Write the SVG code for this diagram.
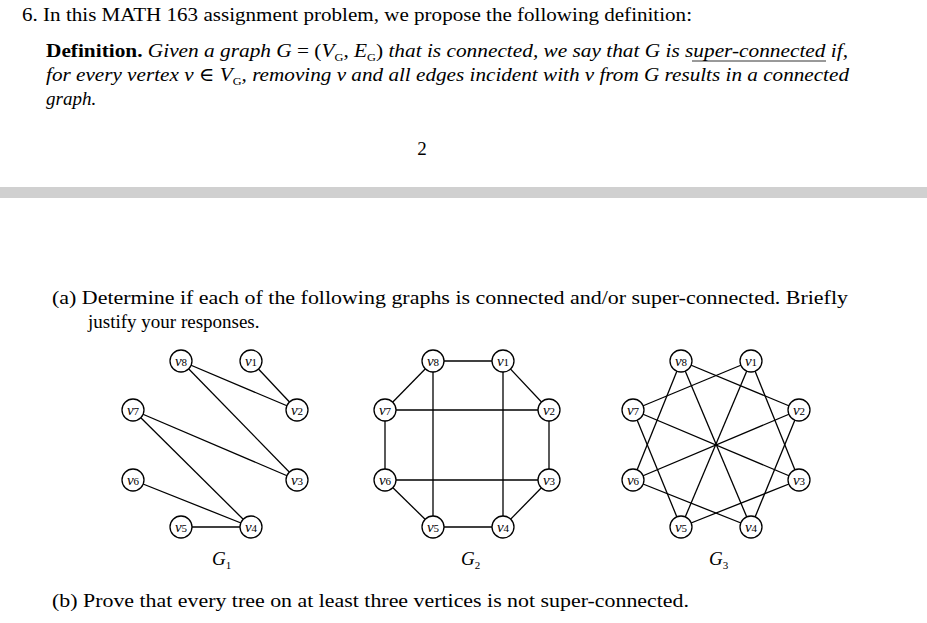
<svg xmlns="http://www.w3.org/2000/svg" width="927" height="623" viewBox="0 0 927 623">
<style>
text{font-family:"Liberation Serif","DejaVu Serif",serif;fill:#000}
.t{font-size:19px}
.i{font-style:italic}
.b{font-weight:bold}
.nd circle{fill:#fff;stroke:#000;stroke-width:1.3}
.nd text{font-size:15px;font-style:italic;text-anchor:middle}
.e line{stroke:#000;stroke-width:1.3}
.s{font-size:11px;font-style:normal}
</style>
<rect width="927" height="623" fill="#fff"/>
<text class="t" x="22" y="21" textLength="670" lengthAdjust="spacingAndGlyphs">6.  In this MATH 163 assignment problem, we propose the following definition:</text>
<text class="t" x="46" y="57" textLength="802" lengthAdjust="spacingAndGlyphs"><tspan class="b">Definition.</tspan> <tspan class="i">Given a graph G</tspan> = (<tspan class="i">V</tspan><tspan class="i s" dy="4">G</tspan><tspan dy="-4">, </tspan><tspan class="i">E</tspan><tspan class="i s" dy="4">G</tspan><tspan dy="-4">) </tspan><tspan class="i">that is connected, we say that G is super-connected if,</tspan></text>
<line x1="692" y1="61" x2="826" y2="61" stroke="#000" stroke-width="0.8"/>
<text class="t i" x="46" y="81" textLength="803" lengthAdjust="spacingAndGlyphs">for every vertex v ∈ V<tspan class="s" dy="4">G</tspan><tspan dy="-4">, removing v and all edges incident with v from G results in a connected</tspan></text>
<text class="t i" x="46" y="105">graph.</text>
<text class="t" x="422" y="155" text-anchor="middle">2</text>
<rect x="0" y="187" width="927" height="11" fill="#d0d0d0"/>
<text class="t" x="52" y="304" textLength="796" lengthAdjust="spacingAndGlyphs">(a) Determine if each of the following graphs is connected and/or super-connected. Briefly</text>
<text class="t" x="88" y="328">justify your responses.</text>
<text class="t" x="52" y="607" textLength="637" lengthAdjust="spacingAndGlyphs">(b) Prove that every tree on at least three vertices is not super-connected.</text>
<g class="e">
<line x1="181" y1="361" x2="297" y2="410"/><line x1="251" y1="361" x2="297" y2="410"/>
<line x1="181" y1="361" x2="297" y2="480"/><line x1="133" y1="410" x2="297" y2="480"/>
<line x1="133" y1="410" x2="251" y2="527"/><line x1="133" y1="480" x2="251" y2="527"/>
<line x1="181" y1="527" x2="251" y2="527"/>
<line x1="433" y1="361" x2="503" y2="361"/><line x1="503" y1="361" x2="549" y2="410"/>
<line x1="549" y1="410" x2="549" y2="480"/><line x1="549" y1="480" x2="503" y2="527"/>
<line x1="503" y1="527" x2="433" y2="527"/><line x1="433" y1="527" x2="385" y2="480"/>
<line x1="385" y1="480" x2="385" y2="410"/><line x1="385" y1="410" x2="433" y2="361"/>
<line x1="433" y1="361" x2="433" y2="527"/><line x1="503" y1="361" x2="503" y2="527"/>
<line x1="385" y1="410" x2="549" y2="410"/><line x1="385" y1="480" x2="549" y2="480"/>
<line x1="751" y1="361" x2="799" y2="480"/><line x1="751" y1="361" x2="681" y2="527"/><line x1="751" y1="361" x2="633" y2="410"/>
<line x1="799" y1="410" x2="751" y2="527"/><line x1="799" y1="410" x2="633" y2="480"/><line x1="799" y1="410" x2="681" y2="361"/>
<line x1="799" y1="480" x2="681" y2="527"/><line x1="799" y1="480" x2="633" y2="410"/>
<line x1="751" y1="527" x2="633" y2="480"/><line x1="751" y1="527" x2="681" y2="361"/>
<line x1="681" y1="527" x2="633" y2="410"/><line x1="633" y1="480" x2="681" y2="361"/>
</g>
<g class="nd" id="g1v8"><circle cx="181" cy="361" r="11"/><text x="181" y="366">v<tspan class="s">8</tspan></text></g>
<g class="nd" id="g1v1"><circle cx="251" cy="361" r="11"/><text x="251" y="366">v<tspan class="s">1</tspan></text></g>
<g class="nd" id="g1v2"><circle cx="297" cy="410" r="11"/><text x="297" y="415">v<tspan class="s">2</tspan></text></g>
<g class="nd" id="g1v3"><circle cx="297" cy="480" r="11"/><text x="297" y="485">v<tspan class="s">3</tspan></text></g>
<g class="nd" id="g1v4"><circle cx="251" cy="527" r="11"/><text x="251" y="532">v<tspan class="s">4</tspan></text></g>
<g class="nd" id="g1v5"><circle cx="181" cy="527" r="11"/><text x="181" y="532">v<tspan class="s">5</tspan></text></g>
<g class="nd" id="g1v6"><circle cx="133" cy="480" r="11"/><text x="133" y="485">v<tspan class="s">6</tspan></text></g>
<g class="nd" id="g1v7"><circle cx="133" cy="410" r="11"/><text x="133" y="415">v<tspan class="s">7</tspan></text></g>
<g class="nd" id="g2v8"><circle cx="433" cy="361" r="11"/><text x="433" y="366">v<tspan class="s">8</tspan></text></g>
<g class="nd" id="g2v1"><circle cx="503" cy="361" r="11"/><text x="503" y="366">v<tspan class="s">1</tspan></text></g>
<g class="nd" id="g2v2"><circle cx="549" cy="410" r="11"/><text x="549" y="415">v<tspan class="s">2</tspan></text></g>
<g class="nd" id="g2v3"><circle cx="549" cy="480" r="11"/><text x="549" y="485">v<tspan class="s">3</tspan></text></g>
<g class="nd" id="g2v4"><circle cx="503" cy="527" r="11"/><text x="503" y="532">v<tspan class="s">4</tspan></text></g>
<g class="nd" id="g2v5"><circle cx="433" cy="527" r="11"/><text x="433" y="532">v<tspan class="s">5</tspan></text></g>
<g class="nd" id="g2v6"><circle cx="385" cy="480" r="11"/><text x="385" y="485">v<tspan class="s">6</tspan></text></g>
<g class="nd" id="g2v7"><circle cx="385" cy="410" r="11"/><text x="385" y="415">v<tspan class="s">7</tspan></text></g>
<g class="nd" id="g3v8"><circle cx="681" cy="361" r="11"/><text x="681" y="366">v<tspan class="s">8</tspan></text></g>
<g class="nd" id="g3v1"><circle cx="751" cy="361" r="11"/><text x="751" y="366">v<tspan class="s">1</tspan></text></g>
<g class="nd" id="g3v2"><circle cx="799" cy="410" r="11"/><text x="799" y="415">v<tspan class="s">2</tspan></text></g>
<g class="nd" id="g3v3"><circle cx="799" cy="480" r="11"/><text x="799" y="485">v<tspan class="s">3</tspan></text></g>
<g class="nd" id="g3v4"><circle cx="751" cy="527" r="11"/><text x="751" y="532">v<tspan class="s">4</tspan></text></g>
<g class="nd" id="g3v5"><circle cx="681" cy="527" r="11"/><text x="681" y="532">v<tspan class="s">5</tspan></text></g>
<g class="nd" id="g3v6"><circle cx="633" cy="480" r="11"/><text x="633" y="485">v<tspan class="s">6</tspan></text></g>
<g class="nd" id="g3v7"><circle cx="633" cy="410" r="11"/><text x="633" y="415">v<tspan class="s">7</tspan></text></g>
<text class="t i" x="212" y="565">G<tspan class="s" dy="4">1</tspan></text>
<text class="t i" x="461" y="565">G<tspan class="s" dy="4">2</tspan></text>
<text class="t i" x="709" y="565">G<tspan class="s" dy="4">3</tspan></text>
</svg>
